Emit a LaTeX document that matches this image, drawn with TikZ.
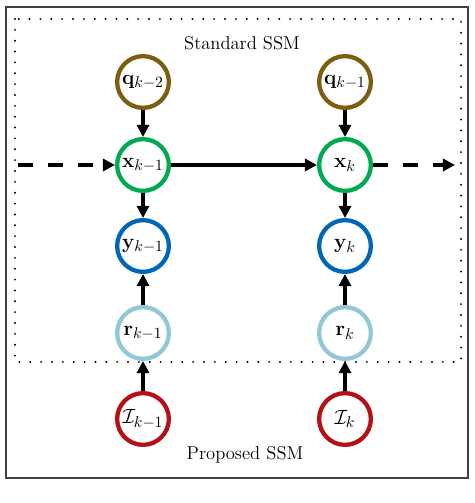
\documentclass[tikz,border=0pt]{standalone}
\usetikzlibrary{arrows.meta}
\definecolor{qcol}{RGB}{124,94,16}
\definecolor{xcol}{RGB}{0,170,80}
\definecolor{ycol}{RGB}{0,102,184}
\definecolor{rcol}{RGB}{146,199,216}
\definecolor{icol}{RGB}{180,16,22}
\begin{document}
\begin{tikzpicture}[x=0.7pt, y=-0.7pt,
    state/.style ={circle, draw=#1, line width=3pt, inner sep = 0pt, minimum size=36.2pt, font=\fontsize{15.5}{18}\selectfont, fill=white},
    link/.style ={line width=2.2pt, -{Triangle[length=8.5pt, width=8.5pt]}}]
   \useasboundingbox (0,0) rectangle (474,503);
   \draw[line width=0.9pt, black!75] (6,7) rectangle (468,478);
   \draw[line width=1.5pt, line cap=round, dash pattern=on 0pt off 7.6pt] (15,19) rectangle (461,362);

   \node[font=\fontsize{13}{15}\selectfont] (std)  at (242,43)  {Standard SSM};
   \node[font=\fontsize{13}{15}\selectfont] (prop) at (245,455) {Proposed SSM};

   \node[state=qcol] (q1) at (143,82)  {$\mathbf{q}_{k-2}$};
   \node[state=qcol] (q2) at (345,82)  {$\mathbf{q}_{k-1}$};
   \node[state=xcol] (x1) at (143,165) {$\mathbf{x}_{k-1}$};
   \node[state=xcol] (x2) at (345,165) {$\mathbf{x}_{k}$};
   \node[state=ycol] (y1) at (143,246) {$\mathbf{y}_{k-1}$};
   \node[state=ycol] (y2) at (345,246) {$\mathbf{y}_{k}$};
   \node[state=rcol] (r1) at (143,333) {$\mathbf{r}_{k-1}$};
   \node[state=rcol] (r2) at (345,333) {$\mathbf{r}_{k}$};
   \node[state=icol] (i1) at (143,419) {$\mathcal{I}_{k-1}$};
   \node[state=icol] (i2) at (345,419) {$\mathcal{I}_{k}$};

   \coordinate (start) at (18,165);
   \coordinate (end)   at (455,165);

   \draw[link] (q1) to (x1);
   \draw[link] (q2) to (x2);
   \draw[link] (x1) to (y1);
   \draw[link] (x2) to (y2);
   \draw[link] (r1) to (y1);
   \draw[link] (r2) to (y2);
   \draw[link] (i1) to (r1);
   \draw[link] (i2) to (r2);
   \draw[link] (x1) to (x2);
   \draw[link, dash pattern=on 10.5pt off 10.5pt] (start) to (x1);
   \draw[link, dash pattern=on 10.5pt off 10.5pt] (x2) to (end);
 \end{tikzpicture}
\end{document}
